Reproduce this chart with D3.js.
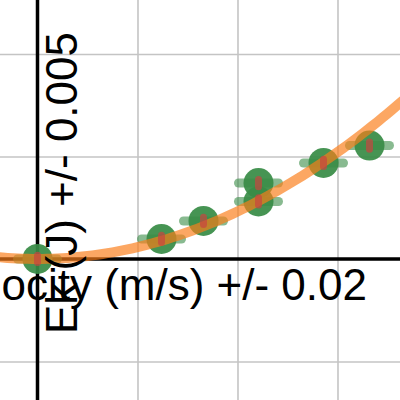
<!DOCTYPE html>
<html>
<head>
<meta charset="utf-8">
<script src="https://cdn.jsdelivr.net/npm/d3@7"></script>
<style>
  body { margin: 0; background: #fff; }
  svg { display: block; }
</style>
</head>
<body>
<script>
// measured data (velocity in m/s, kinetic energy in J)
var velocity = [0.000, 0.124, 0.166, 0.221, 0.221, 0.286, 0.332];
var energy   = [0.000, 0.0195, 0.0371, 0.0741, 0.0561, 0.0937, 0.1107];
var vErr = 0.02;
var eErr = 0.005;
// fitted curve Ek = a * v^2
var fitA = 1.158;

var xTicks = [-0.1, 0, 0.1, 0.2, 0.3];
var yTicks = [-0.1, 0, 0.1, 0.2];

var xLabel = "Velocity (m/s) +/- 0.02";
var yLabel = "Ek (J) +/- 0.005";

var width = 400;
var height = 400;

var svg = d3.select("body")
            .append("svg")
            .attr("width", width)
            .attr("height", height);

var x_scale = d3.scaleLinear()
                .domain([-0.0375, 0.3625])
                .range([0, width]);

var y_scale = d3.scaleLinear()
                .domain([-0.1376, 0.2527])
                .range([height, 0]);

// grid lines
var x_grid = d3.axisBottom(x_scale).tickValues(xTicks).tickSize(-height).tickFormat("");
var y_grid = d3.axisLeft(y_scale).tickValues(yTicks).tickSize(-width).tickFormat("");

svg.append("g")
   .attr("transform", "translate(0," + height + ")")
   .call(x_grid)
   .call(function(g) { g.select(".domain").remove(); })
   .selectAll("line")
   .attr("stroke", "#c4c4c4")
   .attr("stroke-width", 1.6);

svg.append("g")
   .call(y_grid)
   .call(function(g) { g.select(".domain").remove(); })
   .selectAll("line")
   .attr("stroke", "#c4c4c4")
   .attr("stroke-width", 1.6);

// main axes
svg.append("line")
   .attr("x1", 0).attr("x2", width)
   .attr("y1", y_scale(0)).attr("y2", y_scale(0))
   .attr("stroke", "black")
   .attr("stroke-width", 3.5);

svg.append("line")
   .attr("x1", x_scale(0)).attr("x2", x_scale(0))
   .attr("y1", 0).attr("y2", height)
   .attr("stroke", "black")
   .attr("stroke-width", 3.5);

// points
var points = velocity.map(function(v, i) { return { v: v, e: energy[i] }; });

svg.selectAll(".hbar")
   .data(points)
   .enter()
   .append("line")
   .attr("class", "hbar")
   .attr("x1", function(d) { return x_scale(d.v - vErr); })
   .attr("x2", function(d) { return x_scale(d.v + vErr); })
   .attr("y1", function(d) { return y_scale(d.e); })
   .attr("y2", function(d) { return y_scale(d.e); })
   .attr("stroke", "#388c46")
   .attr("stroke-opacity", 0.6)
   .attr("stroke-width", 9)
   .attr("stroke-linecap", "round");

svg.selectAll(".dot")
   .data(points)
   .enter()
   .append("circle")
   .attr("class", "dot")
   .attr("cx", function(d) { return x_scale(d.v); })
   .attr("cy", function(d) { return y_scale(d.e); })
   .attr("r", 15)
   .attr("fill", "#388c46")
   .attr("fill-opacity", 0.93);

// fitted curve
var curve = d3.range(-0.05, 0.38, 0.005).map(function(v) { return [v, fitA * v * v]; });

var line = d3.line()
             .x(function(d) { return x_scale(d[0]); })
             .y(function(d) { return y_scale(d[1]); });

svg.append("path")
   .datum(curve)
   .attr("d", line)
   .attr("fill", "none")
   .attr("stroke", "#fa7e19")
   .attr("stroke-opacity", 0.68)
   .attr("stroke-width", 10)
   .attr("stroke-linecap", "round");

// energy error bars
svg.selectAll(".vbar")
   .data(points)
   .enter()
   .append("rect")
   .attr("class", "vbar")
   .attr("x", function(d) { return x_scale(d.v) - 3.5; })
   .attr("y", function(d) { return y_scale(d.e + eErr) - 2; })
   .attr("width", 7)
   .attr("height", function(d) { return y_scale(d.e - eErr) - y_scale(d.e + eErr) + 4; })
   .attr("rx", 3.5)
   .attr("fill", "#c74440")
   .attr("fill-opacity", 0.7);

// axis labels
svg.append("text")
   .text(yLabel)
   .attr("transform", "translate(77,334) rotate(-90)")
   .attr("font-family", "'Liberation Sans', Arial, sans-serif")
   .attr("font-size", 44)
   .attr("fill", "black");

svg.append("text")
   .text(xLabel)
   .attr("x", 367)
   .attr("y", 300)
   .attr("text-anchor", "end")
   .attr("font-family", "'Liberation Sans', Arial, sans-serif")
   .attr("font-size", 44)
   .attr("fill", "black");
</script>
</body>
</html>
